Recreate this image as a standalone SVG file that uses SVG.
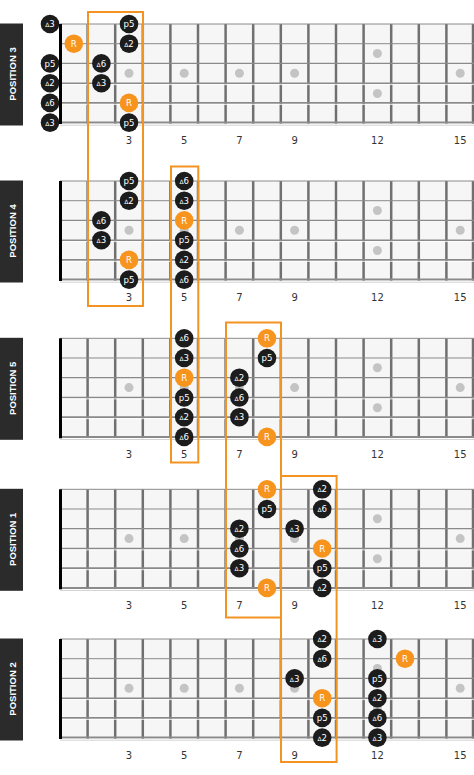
<svg xmlns="http://www.w3.org/2000/svg" xmlns:xlink="http://www.w3.org/1999/xlink" width="474" height="775" viewBox="0 0 474 775">
<style>
.bg{fill:#f6f6f6}
.fret{stroke:#707070;stroke-width:2.5}
.str{stroke:#8a8a8a}
.hl{stroke:#ffffff;stroke-width:0.8}
.nut{fill:#000}
.dot{fill:#c4c4c4}
.fn{font-family:"DejaVu Sans",Verdana,sans-serif;font-size:10px;fill:#333;text-anchor:middle}
.panel{fill:#2b2b2b}
.pt{font-family:"Liberation Sans",Arial,sans-serif;font-weight:bold;font-size:9.5px;fill:#fff;text-anchor:middle}
.b{fill:#1c1c1c}
.o{fill:#f7941d}
.nt{font-family:"DejaVu Sans",Verdana,sans-serif;font-size:8.6px;fill:#fff;text-anchor:middle}
.d{font-size:6px}
.box{fill:none;stroke:#f39422;stroke-width:2}
</style>
<defs>
<g id="board">
<rect class="bg" x="60" y="0" width="414" height="100"/>
<g class="fret">
<line x1="87.6" y1="0" x2="87.6" y2="100"/><line x1="115.2" y1="0" x2="115.2" y2="100"/><line x1="142.8" y1="0" x2="142.8" y2="100"/><line x1="170.4" y1="0" x2="170.4" y2="100"/><line x1="198" y1="0" x2="198" y2="100"/><line x1="225.6" y1="0" x2="225.6" y2="100"/><line x1="253.2" y1="0" x2="253.2" y2="100"/><line x1="280.8" y1="0" x2="280.8" y2="100"/><line x1="308.4" y1="0" x2="308.4" y2="100"/><line x1="336" y1="0" x2="336" y2="100"/><line x1="363.6" y1="0" x2="363.6" y2="100"/><line x1="391.2" y1="0" x2="391.2" y2="100"/><line x1="418.8" y1="0" x2="418.8" y2="100"/><line x1="446.4" y1="0" x2="446.4" y2="100"/><line x1="473" y1="0" x2="473" y2="100"/>
</g>
<g class="str">
<line x1="60" y1="0" x2="474" y2="0" stroke-width="1"/>
<line x1="60" y1="19.7" x2="474" y2="19.7" stroke-width="1"/>
<line x1="60" y1="39.4" x2="474" y2="39.4" stroke-width="1.2"/>
<line x1="60" y1="59.2" x2="474" y2="59.2" stroke-width="1.6"/>
<line x1="60" y1="78.9" x2="474" y2="78.9" stroke-width="1.8"/>
<line x1="60" y1="98.6" x2="474" y2="98.6" stroke-width="2"/>
</g>
<g class="hl">
<line x1="60" y1="60.6" x2="474" y2="60.6"/>
<line x1="60" y1="80.4" x2="474" y2="80.4"/>
<line x1="60" y1="100.2" x2="474" y2="100.2"/>
</g>
<line x1="60" y1="101.2" x2="474" y2="101.2" stroke="#c8c8c8" stroke-width="0.8"/>
<rect class="nut" x="59" y="0" width="3" height="100"/>
<g class="dot">
<circle cx="129" cy="49.3" r="4.5"/><circle cx="184.2" cy="49.3" r="4.5"/><circle cx="239.4" cy="49.3" r="4.5"/><circle cx="294.6" cy="49.3" r="4.5"/><circle cx="377.4" cy="29.5" r="4.5"/><circle cx="377.4" cy="69.5" r="4.5"/><circle cx="460.2" cy="49.3" r="4.5"/>
</g>
<g class="fn">
<text x="129" y="120">3</text><text x="184.2" y="120">5</text><text x="239.4" y="120">7</text><text x="294.6" y="120">9</text><text x="377.4" y="120">12</text><text x="460.2" y="120">15</text>
</g>
</g>
<circle id="nb" r="9.3" class="b"/>
<circle id="no" r="9.3" class="o"/>
</defs>

<g id="position-3" transform="translate(0,24)">
<rect class="panel" x="0" y="-0.5" width="23" height="102"/>
<text class="pt" transform="translate(15.5,50) rotate(-90)">POSITION 3</text>
<use xlink:href="#board"/>
<g class="nt">
<use xlink:href="#nb" x="50" y="0"/><text x="50" y="3.1"><tspan class="d">Δ</tspan>3</text>
<use xlink:href="#nb" x="129" y="0"/><text x="129" y="3.1">p5</text>
<use xlink:href="#no" x="73.8" y="19.7"/><text x="73.8" y="22.8">R</text>
<use xlink:href="#nb" x="129" y="19.7"/><text x="129" y="22.8"><tspan class="d">Δ</tspan>2</text>
<use xlink:href="#nb" x="50" y="39.4"/><text x="50" y="42.5">p5</text>
<use xlink:href="#nb" x="101.4" y="39.4"/><text x="101.4" y="42.5"><tspan class="d">Δ</tspan>6</text>
<use xlink:href="#nb" x="50" y="59.2"/><text x="50" y="62.3"><tspan class="d">Δ</tspan>2</text>
<use xlink:href="#nb" x="101.4" y="59.2"/><text x="101.4" y="62.3"><tspan class="d">Δ</tspan>3</text>
<use xlink:href="#nb" x="50" y="78.9"/><text x="50" y="82"><tspan class="d">Δ</tspan>6</text>
<use xlink:href="#no" x="129" y="78.9"/><text x="129" y="82">R</text>
<use xlink:href="#nb" x="50" y="98.6"/><text x="50" y="101.7"><tspan class="d">Δ</tspan>3</text>
<use xlink:href="#nb" x="129" y="98.6"/><text x="129" y="101.7">p5</text>
</g>
</g>

<g id="position-4" transform="translate(0,181)">
<rect class="panel" x="0" y="-0.5" width="23" height="102"/>
<text class="pt" transform="translate(15.5,50) rotate(-90)">POSITION 4</text>
<use xlink:href="#board"/>
<g class="nt">
<use xlink:href="#nb" x="129" y="0"/><text x="129" y="3.1">p5</text>
<use xlink:href="#nb" x="184.2" y="0"/><text x="184.2" y="3.1"><tspan class="d">Δ</tspan>6</text>
<use xlink:href="#nb" x="129" y="19.7"/><text x="129" y="22.8"><tspan class="d">Δ</tspan>2</text>
<use xlink:href="#nb" x="184.2" y="19.7"/><text x="184.2" y="22.8"><tspan class="d">Δ</tspan>3</text>
<use xlink:href="#nb" x="101.4" y="39.4"/><text x="101.4" y="42.5"><tspan class="d">Δ</tspan>6</text>
<use xlink:href="#no" x="184.2" y="39.4"/><text x="184.2" y="42.5">R</text>
<use xlink:href="#nb" x="101.4" y="59.2"/><text x="101.4" y="62.3"><tspan class="d">Δ</tspan>3</text>
<use xlink:href="#nb" x="184.2" y="59.2"/><text x="184.2" y="62.3">p5</text>
<use xlink:href="#no" x="129" y="78.9"/><text x="129" y="82">R</text>
<use xlink:href="#nb" x="184.2" y="78.9"/><text x="184.2" y="82"><tspan class="d">Δ</tspan>2</text>
<use xlink:href="#nb" x="129" y="98.6"/><text x="129" y="101.7">p5</text>
<use xlink:href="#nb" x="184.2" y="98.6"/><text x="184.2" y="101.7"><tspan class="d">Δ</tspan>6</text>
</g>
</g>

<g id="position-5" transform="translate(0,338.3)">
<rect class="panel" x="0" y="-0.5" width="23" height="102"/>
<text class="pt" transform="translate(15.5,50) rotate(-90)">POSITION 5</text>
<use xlink:href="#board"/>
<g class="nt">
<use xlink:href="#nb" x="184.2" y="0"/><text x="184.2" y="3.1"><tspan class="d">Δ</tspan>6</text>
<use xlink:href="#no" x="267" y="0"/><text x="267" y="3.1">R</text>
<use xlink:href="#nb" x="184.2" y="19.7"/><text x="184.2" y="22.8"><tspan class="d">Δ</tspan>3</text>
<use xlink:href="#nb" x="267" y="19.7"/><text x="267" y="22.8">p5</text>
<use xlink:href="#no" x="184.2" y="39.4"/><text x="184.2" y="42.5">R</text>
<use xlink:href="#nb" x="239.4" y="39.4"/><text x="239.4" y="42.5"><tspan class="d">Δ</tspan>2</text>
<use xlink:href="#nb" x="184.2" y="59.2"/><text x="184.2" y="62.3">p5</text>
<use xlink:href="#nb" x="239.4" y="59.2"/><text x="239.4" y="62.3"><tspan class="d">Δ</tspan>6</text>
<use xlink:href="#nb" x="184.2" y="78.9"/><text x="184.2" y="82"><tspan class="d">Δ</tspan>2</text>
<use xlink:href="#nb" x="239.4" y="78.9"/><text x="239.4" y="82"><tspan class="d">Δ</tspan>3</text>
<use xlink:href="#nb" x="184.2" y="98.6"/><text x="184.2" y="101.7"><tspan class="d">Δ</tspan>6</text>
<use xlink:href="#no" x="267" y="98.6"/><text x="267" y="101.7">R</text>
</g>
</g>

<g id="position-1" transform="translate(0,489.3)">
<rect class="panel" x="0" y="-0.5" width="23" height="102"/>
<text class="pt" transform="translate(15.5,50) rotate(-90)">POSITION 1</text>
<use xlink:href="#board"/>
<g class="nt">
<use xlink:href="#no" x="267" y="0"/><text x="267" y="3.1">R</text>
<use xlink:href="#nb" x="322.2" y="0"/><text x="322.2" y="3.1"><tspan class="d">Δ</tspan>2</text>
<use xlink:href="#nb" x="267" y="19.7"/><text x="267" y="22.8">p5</text>
<use xlink:href="#nb" x="322.2" y="19.7"/><text x="322.2" y="22.8"><tspan class="d">Δ</tspan>6</text>
<use xlink:href="#nb" x="239.4" y="39.4"/><text x="239.4" y="42.5"><tspan class="d">Δ</tspan>2</text>
<use xlink:href="#nb" x="294.6" y="39.4"/><text x="294.6" y="42.5"><tspan class="d">Δ</tspan>3</text>
<use xlink:href="#nb" x="239.4" y="59.2"/><text x="239.4" y="62.3"><tspan class="d">Δ</tspan>6</text>
<use xlink:href="#no" x="322.2" y="59.2"/><text x="322.2" y="62.3">R</text>
<use xlink:href="#nb" x="239.4" y="78.9"/><text x="239.4" y="82"><tspan class="d">Δ</tspan>3</text>
<use xlink:href="#nb" x="322.2" y="78.9"/><text x="322.2" y="82">p5</text>
<use xlink:href="#no" x="267" y="98.6"/><text x="267" y="101.7">R</text>
<use xlink:href="#nb" x="322.2" y="98.6"/><text x="322.2" y="101.7"><tspan class="d">Δ</tspan>2</text>
</g>
</g>

<g id="position-2" transform="translate(0,639)">
<rect class="panel" x="0" y="-0.5" width="23" height="102"/>
<text class="pt" transform="translate(15.5,50) rotate(-90)">POSITION 2</text>
<use xlink:href="#board"/>
<g class="nt">
<use xlink:href="#nb" x="322.2" y="0"/><text x="322.2" y="3.1"><tspan class="d">Δ</tspan>2</text>
<use xlink:href="#nb" x="377.4" y="0"/><text x="377.4" y="3.1"><tspan class="d">Δ</tspan>3</text>
<use xlink:href="#nb" x="322.2" y="19.7"/><text x="322.2" y="22.8"><tspan class="d">Δ</tspan>6</text>
<use xlink:href="#no" x="405" y="19.7"/><text x="405" y="22.8">R</text>
<use xlink:href="#nb" x="294.6" y="39.4"/><text x="294.6" y="42.5"><tspan class="d">Δ</tspan>3</text>
<use xlink:href="#nb" x="377.4" y="39.4"/><text x="377.4" y="42.5">p5</text>
<use xlink:href="#no" x="322.2" y="59.2"/><text x="322.2" y="62.3">R</text>
<use xlink:href="#nb" x="377.4" y="59.2"/><text x="377.4" y="62.3"><tspan class="d">Δ</tspan>2</text>
<use xlink:href="#nb" x="322.2" y="78.9"/><text x="322.2" y="82">p5</text>
<use xlink:href="#nb" x="377.4" y="78.9"/><text x="377.4" y="82"><tspan class="d">Δ</tspan>6</text>
<use xlink:href="#nb" x="322.2" y="98.6"/><text x="322.2" y="101.7"><tspan class="d">Δ</tspan>2</text>
<use xlink:href="#nb" x="377.4" y="98.6"/><text x="377.4" y="101.7"><tspan class="d">Δ</tspan>3</text>
</g>
</g>

<g id="position-boxes">
<rect class="box" x="88" y="12" width="55" height="294"/>
<rect class="box" x="171" y="166.5" width="27.3" height="296"/>
<rect class="box" x="226" y="322.5" width="55" height="295"/>
<rect class="box" x="281" y="476" width="55.6" height="286"/>
</g>
</svg>
